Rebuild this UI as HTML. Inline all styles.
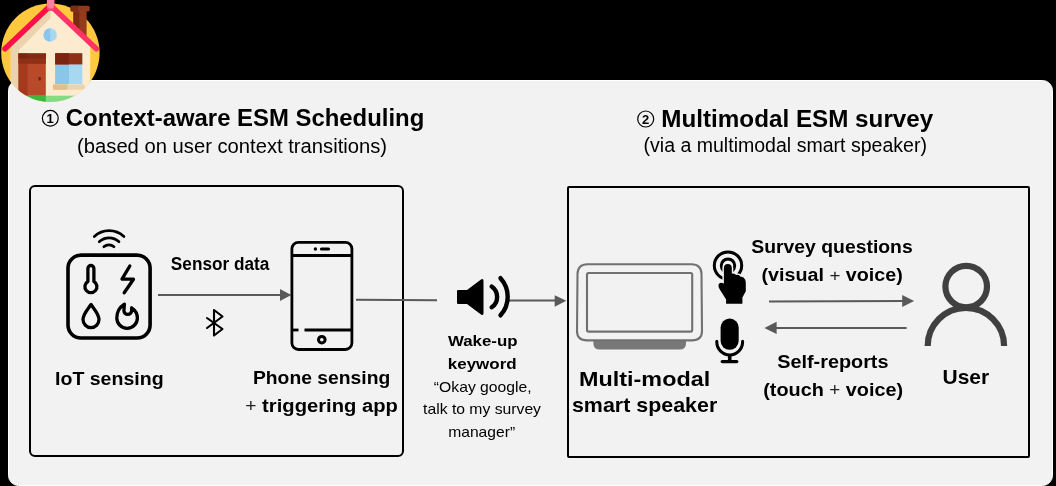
<!DOCTYPE html>
<html><head><meta charset="utf-8">
<style>
html,body{margin:0;padding:0;background:#000;width:1056px;height:486px;overflow:hidden}
svg{display:block;will-change:transform}
text{font-family:"Liberation Sans",sans-serif;fill:#000}
</style></head>
<body>
<svg width="1056" height="486" viewBox="0 0 1056 486">
<defs>
<clipPath id="hc"><circle cx="50.4" cy="52.8" r="49.2"/></clipPath>
</defs>
<rect x="0" y="0" width="1056" height="486" fill="#000"/>
<!-- panel -->
<rect x="8.5" y="80.5" width="1044" height="405" rx="10" fill="#f2f2f2" stroke="#fff" stroke-width="1"/>
<!-- left box -->
<rect x="30" y="186" width="373" height="270" rx="5" fill="none" stroke="#000" stroke-width="2"/>
<!-- right box -->
<rect x="568" y="187" width="461" height="270" rx="1" fill="none" stroke="#000" stroke-width="2"/>

<!-- house icon -->
<circle cx="50.4" cy="52.8" r="49.2" fill="#ffc83d"/>
 <!-- chimney -->
 <rect x="73.4" y="8" width="13.2" height="28" fill="#963a1c"/>
 <rect x="73.4" y="8" width="6" height="28" fill="#7a2a12"/>
 <rect x="70.5" y="5.8" width="19.2" height="5.7" rx="1.5" fill="#8f3a1c"/>
 <rect x="70.5" y="5.8" width="8" height="5.7" rx="1.5" fill="#7a2e14"/>
<g clip-path="url(#hc)">
 <!-- wall -->
 <path d="M50.6,6 L90.2,45 L90.2,103 L10.8,103 L10.8,45 Z" fill="#fdebd0"/>
 <path d="M50.6,6 L10.8,45 L10.8,103 L19,103 L19,50 L50.6,18 Z" fill="#ebd3ae"/>
 <!-- ground -->
 <rect x="0" y="95.7" width="102" height="10" fill="#85da85"/>
 <rect x="0" y="95.7" width="45.8" height="10" fill="#3cb93c"/>
 <!-- door -->
 <rect x="18.5" y="53.5" width="27.3" height="42.2" fill="#b84a2a"/>
 <rect x="18.5" y="53.5" width="9.1" height="42.2" fill="#a33a1e"/>
 <rect x="18.5" y="53.5" width="27.3" height="10.3" fill="#8f2f16"/>
 <rect x="18.5" y="53.5" width="9.1" height="5" fill="#7b2410"/>
 <rect x="27.6" y="53.5" width="18.3" height="5" fill="#822a12"/>
 <ellipse cx="39.7" cy="78.8" rx="1.2" ry="2" fill="#6b1f0d"/>
 <!-- window -->
 <rect x="55.2" y="53.2" width="27.1" height="31.1" fill="#a7d8f0"/>
 <rect x="55.2" y="53.2" width="13.8" height="31.1" fill="#8ac6ea"/>
 <rect x="55.2" y="53.2" width="27.1" height="11.2" fill="#8f2f16"/>
 <rect x="55.2" y="53.2" width="13.8" height="11.2" fill="#7b2410"/>
 <rect x="52.9" y="84.6" width="31.9" height="5.1" rx="1" fill="#ebd3ae"/>
 <rect x="52.9" y="84.6" width="14.5" height="5.1" rx="1" fill="#e0bf8c"/>
 <!-- round window -->
 <circle cx="50.2" cy="34.9" r="6.7" fill="#a7d8f0"/>
 <path d="M50.2,28.2 A6.7,6.7 0 0 0 50.2,41.6 Z" fill="#8ac6ea"/>
 <!-- roof -->
 <path d="M50.6,5.5 L5,48.8" stroke="#ff0f47" stroke-width="5.4" stroke-linecap="round"/>
 <path d="M50.6,5.5 L96.3,48.8" stroke="#ff3366" stroke-width="5.4" stroke-linecap="round"/>
</g>
<rect x="46.8" y="-3" width="7.6" height="14" rx="3.8" fill="#ff4670"/>
<rect x="47" y="-3" width="7.2" height="11.6" rx="3.6" fill="#ff7f9f"/>

<!-- IoT icon -->
<g fill="none" stroke="#000" stroke-linecap="round" stroke-linejoin="round">
 <rect x="68" y="255.1" width="82.1" height="82.9" rx="13" stroke-width="3.6"/>
 <path d="M94.3,236.5 A21.5,21.5 0 0 1 123.9,236.5" stroke-width="2.7"/>
 <path d="M99.2,241.7 A14.5,14.5 0 0 1 119,241.7" stroke-width="2.7"/>
 <path d="M103.8,246.7 A7.8,7.8 0 0 1 114,246.7" stroke-width="2.7"/>
 <path d="M87.9,281.5 L87.9,268.5 A3,3 0 0 1 93.9,268.5 L93.9,281.5 A6,6 0 1 1 87.9,281.5 Z" stroke-width="3.3"/>
 <path d="M129.8,266 L122,279.2 L133.5,279.2 L124.2,292.8" stroke-width="3.3"/>
 <path d="M91,304.5 C88,309 83,314 83,319.6 A8,8 0 0 0 99,319.6 C99,314 94,309 91,304.5 Z" stroke-width="3.3"/>
 <path d="M124.4,304.2 C120,307 116.8,312.5 116.8,318 A10.3,10.3 0 0 0 137.4,318 C137.4,313.5 135,310 131.6,307.8 L131.6,310.6 A3.85,3.85 0 0 1 123.9,310.6 L124.4,304.2 Z" stroke-width="3.3"/>
</g>
<!-- arrows gray -->
<g stroke="#595959" stroke-width="2" fill="#595959">
 <line x1="158" y1="295" x2="282" y2="295"/>
 <path d="M280,289 L291.3,295 L280,301 Z" stroke="none"/>
 <line x1="356" y1="299.8" x2="437" y2="300.3"/>
 <line x1="509" y1="300.5" x2="556" y2="300.6"/>
 <path d="M554.7,295.2 L566.3,300.8 L554.7,306.7 Z" stroke="none"/>
 <line x1="769" y1="301.4" x2="904" y2="301"/>
 <path d="M902.2,294.9 L914.1,300.9 L902.2,306.9 Z" stroke="none"/>
 <line x1="775" y1="327.9" x2="906.6" y2="327.9"/>
 <path d="M776.6,321.7 L764.4,327.9 L776.6,334 Z" stroke="none"/>
</g>
<!-- bluetooth -->
<path d="M207,318 L222.5,329 L214,335.5 L214,310 L222.5,316.5 L207,328" fill="none" stroke="#000" stroke-width="2.1" stroke-linecap="round" stroke-linejoin="round"/>
<!-- phone -->
<g fill="none" stroke="#000" stroke-width="2.8" stroke-linecap="round">
 <rect x="291.9" y="242.3" width="60" height="107.2" rx="6.5"/>
 <line x1="292" y1="255.5" x2="352" y2="255.5" stroke-linecap="butt"/>
 <line x1="292" y1="330" x2="298.5" y2="330" stroke-linecap="butt"/>
 <line x1="304.5" y1="330" x2="352" y2="330" stroke-linecap="butt"/>
 <line x1="321.5" y1="249" x2="328.5" y2="249" stroke-width="3.2"/>
 <circle cx="321.8" cy="339.7" r="3.3" stroke-width="3"/>
</g>
<circle cx="315.4" cy="249" r="1.7" fill="#000"/>
<!-- speaker -->
<path d="M458,290 L467,290 L481,279.5 Q483.5,278 483.5,281 L483.5,313 Q483.5,316 481,314.5 L467,304 L458,304 Q457,304 457,303 L457,291 Q457,290 458,290 Z" fill="#000"/>
<path d="M491.7,286.5 A12.7,12.7 0 0 1 491.7,307.3" fill="none" stroke="#000" stroke-width="4.4" stroke-linecap="round"/>
<path d="M500.5,278.2 A27.5,27.5 0 0 1 500.5,315.3" fill="none" stroke="#000" stroke-width="4.4" stroke-linecap="round"/>
<!-- smart display -->
<path d="M593.4,340 L686,340 L686,343.5 Q686,349.6 679.5,349.6 L599.8,349.6 Q593.4,349.6 593.4,343.5 Z" fill="#787878"/>
<path d="M587.5,264.2 L691.5,264.2 Q701.2,264.2 701.5,274 L702,331 Q702,340.4 692,340.4 L587,340.4 Q577,340.4 577,331 L577.5,274 Q577.8,264.2 587.5,264.2 Z" fill="#f2f2f2" stroke="#717171" stroke-width="2.1"/>
<rect x="587" y="273" width="105.2" height="58.6" rx="1.5" fill="none" stroke="#717171" stroke-width="2.1"/>
<!-- touch icon -->
<g>
 <circle cx="728" cy="265.6" r="13.7" fill="none" stroke="#000" stroke-width="3"/>
 <circle cx="728" cy="265.6" r="6.7" fill="none" stroke="#000" stroke-width="3"/>
 <path d="M723.9,284 L723.9,267.9 Q723.9,264 727.85,264 Q731.8,264 731.8,267.9 L731.8,273.6 Q734.5,272.8 736.2,275 Q739.2,274.2 740.6,276.8 Q743.8,276.4 745.1,279.4 Q745.8,280.6 745.8,283 L745.8,291.3 L742.4,297.6 L742.4,303.8 L726.1,303.8 L726.1,299.6 L719.8,289.5 Q718,286.5 718.6,284.3 Q720,281.6 723.9,283.6 Z" fill="#f2f2f2" stroke="#f2f2f2" stroke-width="3" stroke-linejoin="round"/><path d="M723.9,284 L723.9,267.9 Q723.9,264 727.85,264 Q731.8,264 731.8,267.9 L731.8,273.6 Q734.5,272.8 736.2,275 Q739.2,274.2 740.6,276.8 Q743.8,276.4 745.1,279.4 Q745.8,280.6 745.8,283 L745.8,291.3 L742.4,297.6 L742.4,303.8 L726.1,303.8 L726.1,299.6 L719.8,289.5 Q718,286.5 718.6,284.3 Q720,281.6 723.9,283.6 Z" fill="#000"/>
</g>
<!-- mic -->
<rect x="720.6" y="318.6" width="18.1" height="31.2" rx="9" fill="#000"/>
<path d="M716.8,341.2 L716.8,342 A12.9,12.9 0 0 0 742.6,342 L742.6,341.2" fill="none" stroke="#000" stroke-width="3" stroke-linecap="round"/>
<line x1="729.7" y1="355" x2="729.7" y2="361" stroke="#000" stroke-width="3.6"/>
<line x1="722.2" y1="361.6" x2="736.8" y2="361.6" stroke="#000" stroke-width="3.2" stroke-linecap="round"/>
<!-- user -->
<g fill="none" stroke="#404040" stroke-width="6.2">
 <circle cx="966.2" cy="286.6" r="20.8"/>
 <path d="M927.7,346 A38.2,38.2 0 0 1 1004.1,346"/>
</g>
<!-- circled numbers -->
<g fill="none" stroke="#000" stroke-width="1.2">
 <circle cx="50.3" cy="118.3" r="7.9"/>
 <circle cx="645.7" cy="119" r="8"/>
</g>
<text x="46.6" y="123" font-size="13" font-weight="bold">1</text>
<text x="642" y="123.5" font-size="13" font-weight="bold">2</text>
<text x="65.84" y="126.20" font-size="23" font-weight="bold" textLength="358.43" lengthAdjust="spacingAndGlyphs">Context-aware ESM Scheduling</text>
<text x="77.09" y="152.50" font-size="19.4" font-weight="normal" textLength="309.98" lengthAdjust="spacingAndGlyphs">(based on user context transitions)</text>
<text x="661.33" y="126.50" font-size="23" font-weight="bold" textLength="271.90" lengthAdjust="spacingAndGlyphs">Multimodal ESM survey</text>
<text x="643.53" y="152.40" font-size="19.4" font-weight="normal" textLength="283.41" lengthAdjust="spacingAndGlyphs">(via a multimodal smart speaker)</text>
<text x="170.87" y="270.00" font-size="17.5" font-weight="bold" textLength="98.38" lengthAdjust="spacingAndGlyphs">Sensor data</text>
<text x="55.03" y="384.80" font-size="19.1" font-weight="bold" textLength="108.56" lengthAdjust="spacingAndGlyphs">IoT sensing</text>
<text x="252.94" y="384.20" font-size="19.2" font-weight="bold" textLength="137.33" lengthAdjust="spacingAndGlyphs">Phone sensing</text>
<text x="245.30" y="411.90" font-size="19.2" font-weight="bold" textLength="152.53" lengthAdjust="spacingAndGlyphs"><tspan font-weight="normal" font-size="18.24" dy="0.4" fill="#222">+</tspan><tspan dy="-0.4"> triggering app</tspan></text>
<text x="447.90" y="345.90" font-size="15.2" font-weight="bold" textLength="69.59" lengthAdjust="spacingAndGlyphs">Wake-up</text>
<text x="447.80" y="369.10" font-size="15.2" font-weight="bold" textLength="68.82" lengthAdjust="spacingAndGlyphs">keyword</text>
<text x="433.85" y="391.90" font-size="15" font-weight="normal" textLength="97.83" lengthAdjust="spacingAndGlyphs">“Okay google,</text>
<text x="423.06" y="414.00" font-size="15" font-weight="normal" textLength="117.94" lengthAdjust="spacingAndGlyphs">talk to my survey</text>
<text x="448.18" y="436.70" font-size="15" font-weight="normal" textLength="66.93" lengthAdjust="spacingAndGlyphs">manager”</text>
<text x="579.08" y="385.80" font-size="20.4" font-weight="bold" textLength="131.10" lengthAdjust="spacingAndGlyphs">Multi-modal</text>
<text x="571.95" y="412.30" font-size="20.4" font-weight="bold" textLength="145.35" lengthAdjust="spacingAndGlyphs">smart speaker</text>
<text x="751.32" y="252.70" font-size="18.0" font-weight="bold" textLength="161.38" lengthAdjust="spacingAndGlyphs">Survey questions</text>
<text x="761.52" y="280.80" font-size="18.0" font-weight="bold" textLength="141.22" lengthAdjust="spacingAndGlyphs">(visual <tspan font-weight="normal" font-size="17.10" dy="0.4" fill="#222">+</tspan><tspan dy="-0.4"> voice)</tspan></text>
<text x="777.20" y="367.60" font-size="18.5" font-weight="bold" textLength="111.31" lengthAdjust="spacingAndGlyphs">Self-reports</text>
<text x="763.21" y="395.70" font-size="18.5" font-weight="bold" textLength="139.94" lengthAdjust="spacingAndGlyphs">(touch <tspan font-weight="normal" font-size="17.57" dy="0.4" fill="#222">+</tspan><tspan dy="-0.4"> voice)</tspan></text>
<text x="942.54" y="383.80" font-size="20.5" font-weight="bold" textLength="46.66" lengthAdjust="spacingAndGlyphs">User</text>
</svg>
</body></html>
